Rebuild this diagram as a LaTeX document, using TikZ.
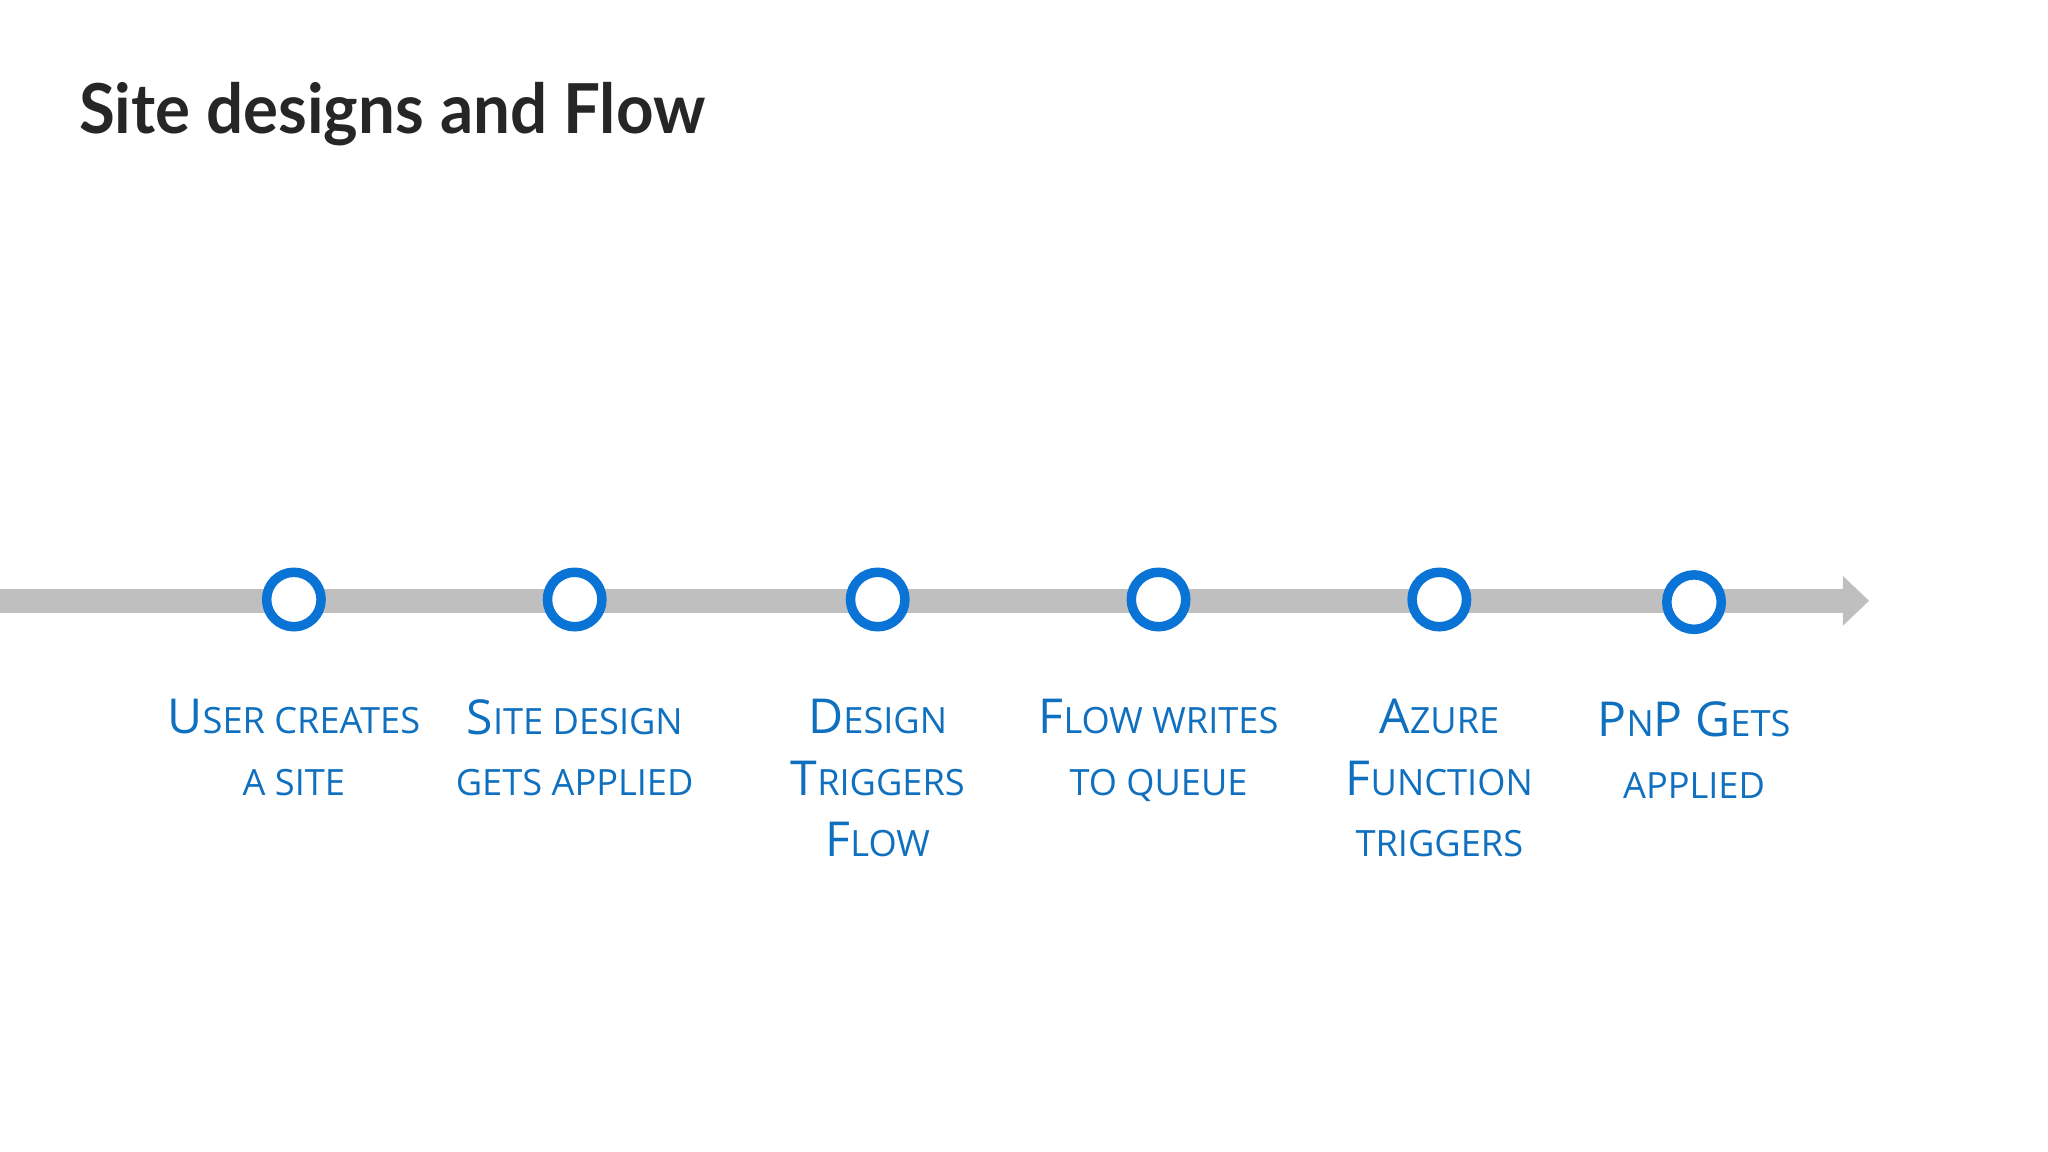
\documentclass[tikz,border=0pt]{standalone}
\usepackage{fontspec}
\setmainfont{Open Sans}
\newfontfamily\titlefont{Lato}
\newcommand\bigc[1]{{\fontsize{13.7}{17.4}\selectfont #1}}
\newcommand\smc[1]{{\fontsize{10.3}{17.4}\selectfont #1}}
\definecolor{tblue}{HTML}{1070C0}
\definecolor{cblue}{HTML}{0A74D6}
\definecolor{lgray}{HTML}{BFBFBF}
\tikzset{lab/.style={text=tblue,align=center,font=\fontsize{13.7}{17.4}\selectfont,anchor=north,inner sep=0pt},
  dot/.style={circle,draw=cblue,line width=2.7pt,fill=white,minimum size=15.5pt,inner sep=0pt}}
\begin{document}
\begin{tikzpicture}[x=0.01306cm,y=-0.01306cm]
\useasboundingbox[fill=white] (0,0) rectangle (1568,882);
\node[anchor=west,text=black!85,font=\titlefont\bfseries\fontsize{19.6}{24}\selectfont,inner sep=0pt,xscale=0.95,transform shape] (title) at (60,87) {Site designs and Flow};
\coordinate (s) at (0,460);
\coordinate (e) at (1413,460);
\draw[lgray,line width=6.7pt] (s) -- (e);
\fill[lgray] (1411,441) -- (1431,460) -- (1411,479) -- cycle;
\foreach \n/\x/\y in {a/225/459,b/440/459,c/672/459,d/887/459,f/1102/459,g/1297/461}{
  \node[dot] (\n) at (\x,\y) {};
}
\node[lab] (la) at (225,535) {\bigc{U}\smc{SER CREATES}\\\smc{A SITE}};
\node[lab] (lb) at (440,535) {\bigc{S}\smc{ITE DESIGN}\\\smc{GETS APPLIED}};
\node[lab] (lc) at (672,535) {\bigc{D}\smc{ESIGN}\\\bigc{T}\smc{RIGGERS}\\\bigc{F}\smc{LOW}};
\node[lab] (ld) at (887,535) {\bigc{F}\smc{LOW WRITES}\\\smc{TO QUEUE}};
\node[lab] (lf) at (1102,535) {\bigc{A}\smc{ZURE}\\\bigc{F}\smc{UNCTION}\\\smc{TRIGGERS}};
\node[lab] (lg) at (1297,537) {\bigc{P}\smc{N}\bigc{P G}\smc{ETS}\\\smc{APPLIED}};
\end{tikzpicture}
\end{document}
